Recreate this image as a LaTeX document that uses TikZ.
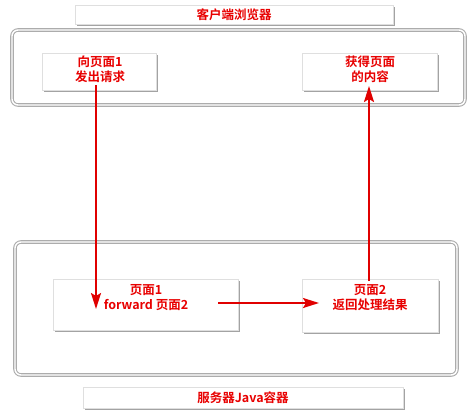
\documentclass[tikz,border=0pt]{standalone}
\usepackage{fontspec}
\newfontfamily\cjk{Noto Sans CJK SC}[BoldFont={Noto Sans CJK SC Bold}]
\usetikzlibrary{shadows,arrows.meta}
\definecolor{txtred}{HTML}{E80000}
\definecolor{arrred}{HTML}{E00000}
\tikzset{
  card/.style={draw=gray!25, line width=0.4pt, fill=white, inner sep=0pt,
    drop shadow={shadow xshift=2pt, shadow yshift=-2pt, fill=gray!85, opacity=0.85}},
  frame/.style={draw=gray!65, line width=1.1pt, double=white, double distance=1.4pt,
    rounded corners=6pt, fill=white,
    drop shadow={shadow xshift=1.2pt, shadow yshift=-1.2pt, fill=gray!50, opacity=0.6}},
  lbl/.style={font=\cjk\bfseries\fontsize{12.5}{15}\selectfont, text=txtred, align=center, inner sep=0pt},
  flow/.style={draw=arrred, line width=2pt, -{Stealth[length=16pt,width=10pt,inset=3pt]}}
}
\begin{document}
\begin{tikzpicture}[x=1pt,y=-1pt]
\useasboundingbox (0,0) rectangle (474,413);
% frames
\draw[frame] (12,30) rectangle (465,105);
\draw[frame] (15,242) rectangle (457,375);
% title cards
\node[card, minimum width=318pt, minimum height=19pt] (title1) at (234,14.5) {};
\node[lbl] (title1t) at (234,14.5) {客户端浏览器};
\node[card, minimum width=320pt, minimum height=21pt] (title2) at (243,397.5) {};
\node[lbl] (title2t) at (243,397.5) {服务器Java容器};
% boxes
\node[card, minimum width=114pt, minimum height=37pt] (a) at (99,71.5) {};
\node[lbl] (at) at (100,69.5) {向页面1\\发出请求};
\node[card, minimum width=135pt, minimum height=37pt] (b) at (369.5,71.5) {};
\node[lbl] (bt) at (370,69.5) {获得页面\\的内容};
\node[card, minimum width=185pt, minimum height=51pt] (c) at (145.5,304.5) {};
\node[lbl] (ct) at (146,297.5) {页面1\\forward 页面2};
\node[card, minimum width=136pt, minimum height=53pt] (d) at (370,305.5) {};
\node[lbl] (dt) at (370,297.5) {页面2\\返回处理结果};
% arrow end points
\coordinate (p1) at (96,85);
\coordinate (p2) at (96,309);
\coordinate (p3) at (218,303);
\coordinate (p4) at (319,303);
\coordinate (p5) at (369,281);
\coordinate (p6) at (369,86);
\draw[flow] (p1) -- (p2);
\draw[flow] (p3) -- (p4);
\draw[flow] (p5) -- (p6);
\end{tikzpicture}
\end{document}
